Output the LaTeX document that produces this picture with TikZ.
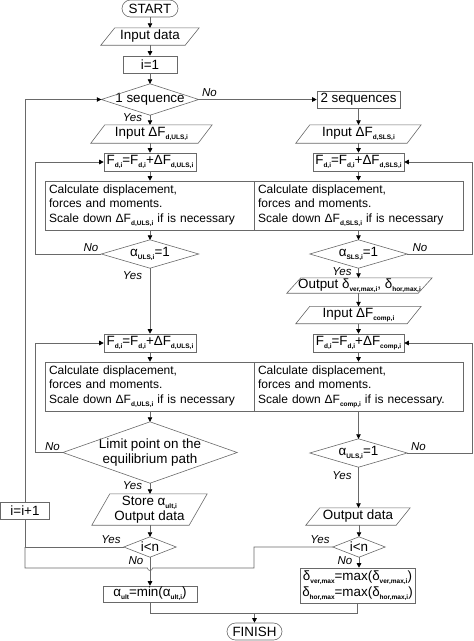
\documentclass[tikz,border=0pt]{standalone}
\usepackage{fontspec}
\setmainfont{Liberation Sans}
\usetikzlibrary{arrows.meta}
\definecolor{lc}{RGB}{105,105,105}
\newcommand{\sbs}[1]{\raisebox{-0.45ex}{\fontsize{6.5}{6.5}\selectfont\bfseries #1}}
\newcommand{\fmain}{\fontsize{13.4}{15.5}\selectfont}
\newcommand{\fcalc}{\fontsize{12}{14.5}\selectfont}
\newcommand{\flab}{\fontsize{11.5}{12}\selectfont\itshape}
\newcommand{\dmd}[1]{\draw[ln] (#1.north) -- (#1.east) -- (#1.south) -- (#1.west) -- cycle;}
\newcommand{\prl}[2]{\draw[ln] ([xshift=#2]#1.north west) -- (#1.north east) -- ([xshift=-#2]#1.south east) -- (#1.south west) -- cycle;}
\begin{document}
\begin{tikzpicture}[x=1pt,y=-1pt,
  ln/.style={draw=lc,line width=0.6pt},
  arr/.style={ln,-{Triangle[length=4.5pt,width=4.5pt,color=black]}},
  bx/.style={ln,rectangle,inner sep=0pt,font=\fmain,align=center},
  hid/.style={rectangle,inner sep=0pt,font=\fmain,align=center},
  cb/.style={ln,rectangle,inner xsep=4pt,inner ysep=0pt,font=\fcalc,align=left,text width=201pt,minimum width=209pt,minimum height=49pt},
  lab/.style={font=\flab,inner sep=0pt},
]
\useasboundingbox (0,0) rectangle (474,641);
% nodes
\node[bx,rounded corners=8.5pt,minimum width=56pt,minimum height=17pt] (start) at (150,8.5) {START};
\node[hid,minimum width=98pt,minimum height=17pt] (input) at (150,36.5) {Input data};
\node[bx,minimum width=54pt,minimum height=17pt] (i1) at (150,64.5) {i=1};
\node[hid,minimum width=97pt,minimum height=31pt] (seq1) at (150,99.5) {1 sequence};
\node[bx,minimum width=83pt,minimum height=17pt] (seq2) at (358.5,99.5) {2 sequences};
\node[hid,minimum width=121pt,minimum height=18pt] (inL) at (151.5,134) {Input ΔF\sbs{d,ULS,i}};
\node[hid,minimum width=125pt,minimum height=18pt] (inR) at (358.5,134) {Input ΔF\sbs{d,SLS,i}};
\node[bx,minimum width=92pt,minimum height=18pt] (FL1) at (150,162) {F\sbs{d,i}=F\sbs{d,i}+ΔF\sbs{d,ULS,i}};
\node[bx,minimum width=91pt,minimum height=18pt] (FR1) at (358.5,162) {F\sbs{d,i}=F\sbs{d,i}+ΔF\sbs{d,SLS,i}};
\node[cb] (cL1) at (149.5,205.5) {Calculate displacement,\\forces and moments.\\Scale down ΔF\sbs{d,ULS,i} if is necessary};
\node[cb] (cR1) at (358.5,205.5) {Calculate displacement,\\forces and moments.\\Scale down ΔF\sbs{d,SLS,i} if is necessary};
\node[hid,minimum width=97pt,minimum height=28pt] (aL1) at (150,254) {α\sbs{ULS,i}=1};
\node[hid,minimum width=97pt,minimum height=28pt] (aR1) at (358.5,254) {α\sbs{SLS,i}=1};
\node[hid,minimum width=145pt,minimum height=15pt] (outR) at (359.5,285.5) {Output δ\sbs{ver,max,i}, δ\sbs{hor,max,i}};
\node[hid,minimum width=125pt,minimum height=17pt] (inC) at (358.5,315) {Input ΔF\sbs{comp,i}};
\node[bx,minimum width=92pt,minimum height=18pt] (FL2) at (150,343) {F\sbs{d,i}=F\sbs{d,i}+ΔF\sbs{d,ULS,i}};
\node[bx,minimum width=91pt,minimum height=18pt] (FR2) at (358.5,343) {F\sbs{d,i}=F\sbs{d,i}+ΔF\sbs{comp,i}};
\node[cb] (cL2) at (149.5,386.5) {Calculate displacement,\\forces and moments.\\Scale down ΔF\sbs{d,ULS,i} if is necessary};
\node[cb] (cR2) at (358.5,386.5) {Calculate displacement,\\forces and moments.\\Scale down ΔF\sbs{comp,i} if is necessary.};
\node[hid,minimum width=174pt,minimum height=61pt] (lim) at (150,452.5) {Limit point on the\\equilibrium path};
\node[hid,minimum width=97pt,minimum height=28pt] (aR2) at (358.5,453) {α\sbs{ULS,i}=1};
\node[hid,minimum width=115pt,minimum height=31pt] (store) at (149.5,509.5) {Store α\sbs{ult,i}\\Output data};
\node[hid,minimum width=104pt,minimum height=17pt] (outD) at (358,516.5) {Output data};
\node[bx,minimum width=49pt,minimum height=17pt] (incr) at (25,510.5) {i=i+1};
\node[hid,minimum width=52pt,minimum height=20pt] (nL) at (150,547) {i<n};
\node[hid,minimum width=52pt,minimum height=20pt] (nR) at (359,547) {i<n};
\node[bx,minimum width=94pt,minimum height=16pt] (ult) at (150,594) {α\sbs{ult}=min(α\sbs{ult,i})};
\node[bx,minimum width=115pt,minimum height=35pt] (dmax) at (357.5,585.5) {δ\sbs{ver,max}=max(δ\sbs{ver,max,i})\\δ\sbs{hor,max}=max(δ\sbs{hor,max,i})};
\node[bx,rounded corners=8.5pt,minimum width=55pt,minimum height=17pt] (finish) at (254.5,631.5) {FINISH};
% shapes
\dmd{seq1}\dmd{aL1}\dmd{aR1}\dmd{lim}\dmd{aR2}\dmd{nL}\dmd{nR}
\prl{input}{14}\prl{inL}{14}\prl{inR}{14}\prl{outR}{14}\prl{inC}{14}\prl{store}{18}\prl{outD}{14}
% connectors
\draw[arr] (start.south) -- (input.north);
\draw[arr] (input.south) -- (i1.north);
\draw[arr] (i1.south) -- (seq1.north);
\draw[arr] (seq1.east) -- (seq2.west);
\draw[arr] (seq1.south) -- (seq1.south |- inL.north);
\draw[arr] (seq2.south) -- (inR.north);
\draw[arr] (FL1.north |- inL.south) -- (FL1.north);
\draw[arr] (inR.south) -- (FR1.north);
\draw[arr] (FL1.south) -- (FL1.south |- cL1.north);
\draw[arr] (FR1.south) -- (cR1.north);
\draw[arr] (aL1.north |- cL1.south) -- (aL1.north);
\draw[arr] (cR1.south) -- (aR1.north);
\draw[arr] (aL1.west) -- (35,254) |- (FL1.west);
\draw[arr] (aR1.east) -- (472.5,254) |- (FR1.east);
\draw[arr] (aL1.south) -- (FL2.north);
\draw[arr] (aR1.south) -- (aR1.south |- outR.north);
\draw[arr] (inC.north |- outR.south) -- (inC.north);
\draw[arr] (inC.south) -- (FR2.north);
\draw[arr] (FL2.south) -- (FL2.south |- cL2.north);
\draw[arr] (FR2.south) -- (cR2.north);
\draw[arr] (lim.north |- cL2.south) -- (lim.north);
\draw[arr] (cR2.south) -- (aR2.north);
\draw[arr] (lim.west) -- (35,452.5) |- (FL2.west);
\draw[arr] (aR2.east) -- (472.5,453) |- (FR2.east);
\draw[arr] (lim.south) -- (lim.south |- store.north);
\draw[arr] (aR2.south) -- (aR2.south |- outD.north);
\draw[arr] (nL.north |- store.south) -- (nL.north);
\draw[arr] (nR.north |- outD.south) -- (nR.north);
\draw[ln] (nL.west) -- (25,547) -- (incr.south);
\draw[arr] (incr.north) -- (25,99.5) -- (seq1.west);
\draw[ln] (nR.west) -- (254,547) -- (254,568) -- (152.5,568) arc[start angle=0,end angle=180,radius=2.5] -- (25,568) -- (25,547);
\draw[arr] (nL.south) -- (ult.north);
\draw[arr] (nR.south) -- (nR.south |- dmax.north);
\draw[arr] (ult.south) -- (150,613) -- (254.5,613) -- (finish.north);
\draw[ln] (dmax.south) -- (357.5,613) -- (254.5,613);
% labels
\node[lab] (l1) at (209.5,92.5) {No};
\node[lab] (l2) at (132.5,117.5) {Yes};
\node[lab] (l3) at (91,248) {No};
\node[lab] (l4) at (132.5,276) {Yes};
\node[lab] (l5) at (420,248) {No};
\node[lab] (l6) at (342,271.5) {Yes};
\node[lab] (l7) at (52.5,446.5) {No};
\node[lab] (l8) at (418.5,446.5) {No};
\node[lab] (l9) at (342,475.5) {Yes};
\node[lab] (l10) at (132.5,486) {Yes};
\node[lab] (l11) at (111,540) {Yes};
\node[lab] (l12) at (136,561) {No};
\node[lab] (l13) at (320,540) {Yes};
\node[lab] (l14) at (345,561) {No};
\end{tikzpicture}
\end{document}
